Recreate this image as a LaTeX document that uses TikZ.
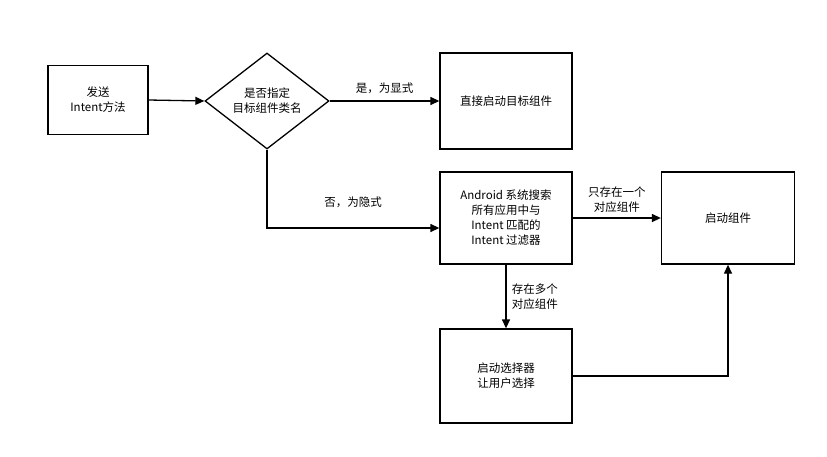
\documentclass[tikz,border=0pt]{standalone}
\usepackage{fontspec}
\setmainfont{Noto Sans CJK SC}
\usetikzlibrary{shapes.geometric,arrows.meta}
\begin{document}
\begin{tikzpicture}[x=1pt,y=-1pt,
  box/.style={draw,line width=1.3pt,minimum width=#1,align=center,inner sep=0pt},
  lbl/.style={align=center,font=\fontsize{11.5}{15}\selectfont},
  arr/.style={line width=1.3pt,-{Triangle[length=9pt,width=8pt]}},
  every node/.style={font=\fontsize{11.5}{15}\selectfont}]
\useasboundingbox (0,0) rectangle (827,456);
\node[box=100pt,minimum height=69pt] (a) at (98,100) {发送\\Intent方法};
\node[draw,line width=1.3pt,diamond,minimum width=124pt,minimum height=96pt,inner sep=0pt,align=center] (q) at (267,101) {是否指定\\目标组件类名};
\node[box=132pt,minimum height=96pt] (b) at (506,101) {直接启动目标组件};
\node[box=132pt,minimum height=92pt] (c) at (506,218) {Android 系统搜索\\所有应用中与\\Intent 匹配的\\Intent 过滤器};
\node[box=133pt,minimum height=92pt] (d) at (728,218) {启动组件};
\node[box=132pt,minimum height=94pt] (e) at (506,376) {启动选择器\\让用户选择};
\draw[arr] (a.east) -- (q.west);
\draw[arr] (q.east) -- node[lbl,above=3pt]{是，为显式} (b.west);
\draw[arr] (q.south) |- (c.west |- 0,228) node[lbl,pos=0.75,above=16pt]{否，为隐式};
\draw[arr] (c.east) -- node[lbl,above=2pt]{只存在一个\\对应组件} (d.west);
\draw[arr] (c.south) -- node[lbl,right=2pt]{存在多个\\对应组件} (e.north);
\draw[arr] (e.east) -| (d.south);
\end{tikzpicture}
\end{document}
